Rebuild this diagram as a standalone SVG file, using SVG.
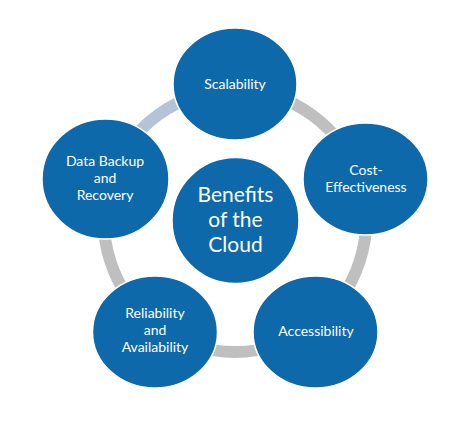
<svg xmlns="http://www.w3.org/2000/svg" width="474" height="441" viewBox="0 0 474 441">
<style>
.ring{fill:none;stroke:#BFBFBF;stroke-width:12}
.ring.alt{stroke:#B4C3D8}
.node{fill:#0E69AB;stroke:#FFFFFF;stroke-width:1.5}
.lbl{font-family:Lato,"Open Sans","Liberation Sans",sans-serif;font-size:14px;fill:#FFFFFF;text-anchor:middle}
.big{font-size:21px}
</style>
<rect width="474" height="441" fill="#FFFFFF"/>
<g id="connectors">
<path class="ring" d="M235,90 A131,131 0 0 1 359.6,180.5"/>
<path class="ring" d="M359.6,180.5 A131,131 0 0 1 312,327"/>
<path class="ring" d="M312,327 A131,131 0 0 1 158,327"/>
<path class="ring" d="M158,327 A131,131 0 0 1 110.4,180.5"/>
<path class="ring alt" d="M110.4,180.5 A131,131 0 0 1 235,90"/>
</g>
<g id="center">
<ellipse class="node" cx="235.5" cy="220.5" rx="63.5" ry="63"/>
<text class="lbl big" x="235.5" y="202">Benefits</text>
<text class="lbl big" x="235.5" y="227">of the</text>
<text class="lbl big" x="235.5" y="252">Cloud</text>
</g>
<g id="scalability">
<ellipse class="node" cx="235" cy="84" rx="62" ry="56"/>
<text class="lbl" x="235" y="89">Scalability</text>
</g>
<g id="cost">
<ellipse class="node" cx="365.5" cy="179" rx="62.5" ry="56"/>
<text class="lbl" x="366" y="174.5">Cost-</text>
<text class="lbl" x="366" y="191.5">Effectiveness</text>
</g>
<g id="accessibility">
<ellipse class="node" cx="315.5" cy="332" rx="62.5" ry="56"/>
<text class="lbl" x="316" y="336">Accessibility</text>
</g>
<g id="reliability">
<ellipse class="node" cx="155" cy="332" rx="62.5" ry="56"/>
<text class="lbl" x="155" y="318">Reliability</text>
<text class="lbl" x="155" y="335">and</text>
<text class="lbl" x="155" y="352">Availability</text>
</g>
<g id="backup">
<ellipse class="node" cx="105.5" cy="179" rx="63.5" ry="60"/>
<text class="lbl" x="105" y="166">Data Backup</text>
<text class="lbl" x="105" y="183">and</text>
<text class="lbl" x="105" y="200">Recovery</text>
</g>
</svg>
